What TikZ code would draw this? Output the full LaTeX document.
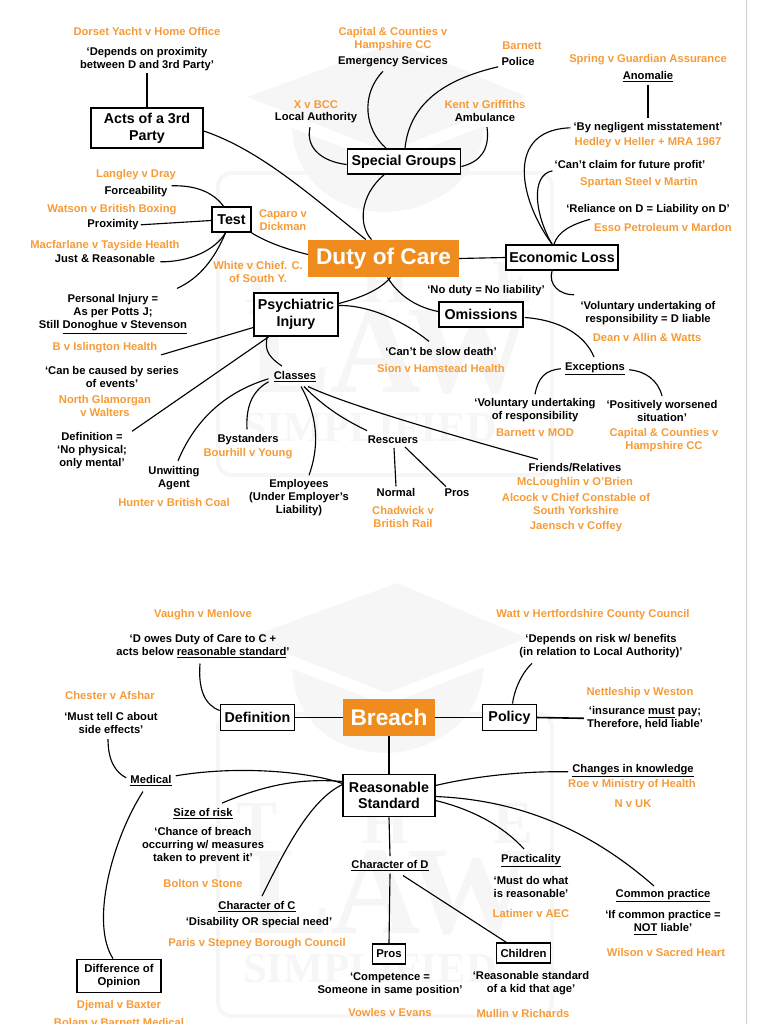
\documentclass[tikz,border=0pt]{standalone}
\usepackage{fontspec}
\setmainfont{Liberation Sans}
\newfontfamily\markFont{Liberation Serif}
\definecolor{caseColor}{RGB}{246,155,55}
\definecolor{headColor}{RGB}{240,140,30}
\definecolor{markColor}{RGB}{246,246,246}
\definecolor{edgeColor}{RGB}{205,205,205}
\tikzstyle{mindMap} = [x = .75pt, y = -.75pt]
\tikzstyle{caseText} = [text=caseColor, font=\fontsize{8.4}{9.75}\selectfont\bfseries, align=center, inner sep=1.5pt, yshift=-.6pt]
\tikzstyle{noteText} = [text=black, font=\fontsize{8.4}{9.75}\selectfont\bfseries, align=center, inner sep=1.5pt, yshift=-.6pt]
\tikzstyle{boxStyle} = [draw=black, fill=white, line width=1.1pt, inner sep=0pt, align=center, font=\fontsize{10.7}{12.5}\selectfont\bfseries]
\tikzstyle{smallBox} = [boxStyle, font=\fontsize{8.5}{10}\selectfont\bfseries]
\tikzstyle{headStyle} = [fill=headColor, text=white, inner sep=0pt, font=\fontsize{17}{18}\selectfont\bfseries]
\tikzstyle{branchLine} = [draw=black, line width=.85pt]
\tikzstyle{markText} = [text=markColor, inner sep=0pt, font=\markFont\bfseries]
\newcommand{\lawMark}[1]{
  \begin{scope}[shift={(0,#1)}]
    \fill [markColor] (247,97) -- (397,42) -- (527,97) -- (387,152) -- cycle;
    \fill [markColor] (292,128) -- (387,164) -- (484,126) .. controls (480,190) and (420,212) .. (385,212) .. controls (340,212) and (295,185) .. (292,128) -- cycle;
    \draw [markColor, line width=3pt, rounded corners=10pt] (218,173) rectangle (552,475);
  \end{scope}
}
\begin{document}
\begin{tikzpicture}[mindMap]
  \useasboundingbox (0,0) rectangle (768,1024);
  \draw [edgeColor, line width=.9pt] (746.5,0) -- (746.5,1024);

  % watermarks
  \lawMark{0}
  \node [markText, font=\markFont\bfseries\fontsize{46}{46}\selectfont] (theTop) at (385,282) {T\hspace{2.2cm}H\hspace{2.2cm}E};
  \node [markText, font=\markFont\bfseries\fontsize{94}{94}\selectfont] (lawTop) at (390,352) {LAW};
  \node [markText, font=\markFont\bfseries\fontsize{32}{32}\selectfont] (simplifiedTop) at (370,428) {SIMPLIFIED};
  \lawMark{541}
  \node [markText, font=\markFont\bfseries\fontsize{46}{46}\selectfont] (theBottom) at (385,823) {T\hspace{2.2cm}H\hspace{2.2cm}E};
  \node [markText, font=\markFont\bfseries\fontsize{94}{94}\selectfont] (lawBottom) at (390,893) {LAW};
  \node [markText, font=\markFont\bfseries\fontsize{32}{32}\selectfont] (simplifiedBottom) at (370,969) {SIMPLIFIED};

  % duty of care
  \node [headStyle, minimum width=113pt, minimum height=28pt] (dutyBox) at (383.5,258.5) {\raisebox{-1.5pt}{Duty of Care}};
  \node [boxStyle, minimum width=84pt, minimum height=30pt] (thirdBox) at (147,128) {Acts of a 3rd\\Party};
  \node [boxStyle, minimum width=29pt, minimum height=19pt] (testBox) at (231.5,219.5) {\raisebox{-.7pt}{Test}};
  \node [boxStyle, minimum width=85pt, minimum height=19pt] (specialBox) at (404,161.5) {\raisebox{-1.5pt}{Special Groups}};
  \node [boxStyle, minimum width=84pt, minimum height=19pt] (economicBox) at (562,257.5) {\raisebox{-.7pt}{Economic Loss}};
  \node [boxStyle, minimum width=63pt, minimum height=32pt] (psychBox) at (296,314.5) {Psychiatric\\Injury};
  \node [boxStyle, minimum width=63pt, minimum height=19pt] (omissionsBox) at (481,314.5) {Omissions};

  \node [caseText] (dorsetCase) at (147,31) {Dorset Yacht v Home Office};
  \node [noteText] (dorsetNote) at (147,58.5) {‘Depends on proximity\\between D and 3rd Party’};
  \node [caseText] (langleyCase) at (136,174) {Langley v Dray};
  \node [noteText] (forceNote) at (136,191) {Forceability};
  \node [caseText] (watsonCase) at (112,209) {Watson v British Boxing};
  \node [noteText] (proximityNote) at (113,224) {Proximity};
  \node [caseText] (macfarlaneCase) at (105,245) {Macfarlane v Tayside Health};
  \node [noteText] (justNote) at (105,258) {Just \& Reasonable};
  \node [caseText] (caparoCase) at (283,219) {Caparo v\\Dickman};
  \node [caseText] (whiteCase) at (258,271) {White v Chief. C.\\of South Y.};
  \node [noteText] (injuryNote) at (113,313.5) {Personal Injury =\\As per Potts J;\\Still \underline{Donoghue v Stevenson}};
  \node [caseText] (islingtonCase) at (105,347) {B v Islington Health};
  \node [noteText] (seriesNote) at (112,376) {‘Can be caused by series\\of events’};
  \node [caseText] (glamorganCase) at (105,405.5) {North Glamorgan\\v Walters};
  \node [noteText] (physicalNote) at (92,450) {Definition =\\‘No physical;\\only mental’};
  \node [noteText] (unwittingNote) at (174,477) {Unwitting\\Agent};
  \node [caseText] (hunterCase) at (174,502) {Hunter v British Coal};
  \node [noteText] (bystandersNote) at (248,439) {Bystanders};
  \node [caseText] (bourhillCase) at (248,453) {Bourhill v Young};
  \node [noteText] (employeesNote) at (299,497) {Employees\\(Under Employer’s\\Liability)};
  \node [noteText] (classesNote) at (295,376) {\underline{Classes}};
  \node [caseText] (capitalCase) at (393,38.5) {Capital \& Counties v\\Hampshire CC};
  \node [noteText] (emergencyNote) at (393,61) {Emergency Services};
  \node [caseText] (barnettCase) at (522,45) {Barnett};
  \node [noteText] (policeNote) at (518,61) {Police};
  \node [caseText] (bccCase) at (316,104) {X v BCC};
  \node [noteText] (localNote) at (316,117) {Local Authority};
  \node [caseText] (kentCase) at (485,104) {Kent v Griffiths};
  \node [noteText] (ambulanceNote) at (485,117) {Ambulance};
  \node [caseText] (springCase) at (648,59) {Spring v Guardian Assurance};
  \node [noteText] (anomalieNote) at (648,76) {\underline{Anomalie}};
  \node [noteText] (negligentNote) at (648,127) {‘By negligent misstatement’};
  \node [caseText] (hedleyCase) at (648,142) {Hedley v Heller + MRA 1967};
  \node [noteText] (profitNote) at (630,165) {‘Can’t claim for future profit’};
  \node [caseText] (spartanCase) at (639,182) {Spartan Steel v Martin};
  \node [noteText] (relianceNote) at (648,209) {‘Reliance on D = Liability on D’};
  \node [caseText] (essoCase) at (663,227) {Esso Petroleum v Mardon};
  \node [noteText] (nodutyNote) at (486,290) {‘No duty = No liability’};
  \node [noteText] (undertakingNote) at (648,312) {‘Voluntary undertaking of\\responsibility = D liable};
  \node [caseText] (deanCase) at (647,337) {Dean v Allin \& Watts};
  \node [noteText] (slowNote) at (441,351) {‘Can’t be slow death’};
  \node [caseText] (sionCase) at (441,368) {Sion v Hamstead Health};
  \node [noteText] (exceptionsNote) at (595,368) {\underline{Exceptions}};
  \node [noteText] (voluntaryNote) at (535,409.5) {‘Voluntary undertaking\\of responsibility};
  \node [caseText] (barnettModCase) at (535,432) {Barnett v MOD};
  \node [noteText] (worsenedNote) at (662,410) {‘Positively worsened\\situation’};
  \node [caseText] (capitalTwoCase) at (664,439) {Capital \& Counties v\\Hampshire CC};
  \node [noteText] (rescuersNote) at (393,439) {Rescuers};
  \node [noteText] (normalNote) at (396,492) {Normal};
  \node [noteText] (rescueProsNote) at (457,492) {Pros};
  \node [caseText] (chadwickCase) at (403,516) {Chadwick v\\British Rail};
  \node [noteText] (friendsNote) at (575,467) {Friends/Relatives};
  \node [caseText] (mcloughlinCase) at (575,482) {McLoughlin v O’Brien};
  \node [caseText] (alcockCase) at (576,503.5) {Alcock v Chief Constable of\\South Yorkshire};
  \node [caseText] (jaenschCase) at (576,526) {Jaensch v Coffey};

  \draw [branchLine] (dutyBox.east) -- (economicBox.west);
  \draw [branchLine] ([shift={(0,3)}]thirdBox.east) .. controls (260,150) and (310,195) .. ([shift={(58,0)}]dutyBox.north west);
  \draw [branchLine] (testBox.south east) .. controls (270,244) and (290,250) .. ([shift={(0,-4)}]dutyBox.west);
  \draw [branchLine] ([shift={(-20,0)}]specialBox.south) .. controls (360,195) and (358,225) .. ([shift={(-12,0)}]dutyBox.north);
  \draw [branchLine] ([shift={(0,-11)}]psychBox.east) .. controls (360,298) and (380,290) .. ([shift={(7,0)}]dutyBox.south);
  \draw [branchLine] ([shift={(4,0)}]dutyBox.south) .. controls (400,298) and (420,308) .. ([shift={(0,-3)}]omissionsBox.west);
  \draw [branchLine] (dorsetNote.south) -- (thirdBox.north);
  \draw [branchLine] ([shift={(2,-6)}]forceNote.east) .. controls (200,185) and (215,195) .. ([shift={(-8,0)}]testBox.north);
  \draw [branchLine] (proximityNote.east) -- ([shift={(0,1)}]testBox.west);
  \draw [branchLine] ([shift={(3,3)}]justNote.east) .. controls (190,262) and (215,250) .. ([shift={(-6,0)}]testBox.south);
  \draw [branchLine] ([shift={(64,-4)}]injuryNote.north) .. controls (200,278) and (215,258) .. ([shift={(-6,0)}]testBox.south);
  \draw [branchLine] ([shift={(49,-9)}]seriesNote.north) -- ([shift={(0,13)}]psychBox.west);
  \draw [branchLine] ([shift={(40,1)}]physicalNote.north) -- ([shift={(-27,0)}]psychBox.south);
  \draw [branchLine] ([shift={(-13,-3)}]classesNote.north) .. controls (264,354) and (266,347) .. ([shift={(-29,0)}]psychBox.south);
  \draw [branchLine] ([shift={(0,-9)}]psychBox.east) .. controls (370,305) and (405,322) .. ([shift={(-12,-4)}]slowNote.north);
  \draw [branchLine] ([shift={(-3,2)}]classesNote.west) .. controls (225,392) and (195,420) .. ([shift={(4,-3)}]unwittingNote.north);
  \draw [branchLine] ([shift={(-3,5)}]classesNote.west) .. controls (250,392) and (246,410) .. ([shift={(-1,-3)}]bystandersNote.north);
  \draw [branchLine] ([shift={(6,2)}]classesNote.south) .. controls (320,420) and (318,450) .. ([shift={(10,-2)}]employeesNote.north);
  \draw [branchLine] ([shift={(9,2)}]classesNote.south) .. controls (325,408) and (345,420) .. ([shift={(-26,-3)}]rescuersNote.north);
  \draw [branchLine] ([shift={(13,2)}]classesNote.south) .. controls (345,404) and (440,432) .. ([shift={(-37,-2)}]friendsNote.north);
  \draw [branchLine] ([shift={(1,2)}]rescuersNote.south) -- (normalNote.north);
  \draw [branchLine] ([shift={(12,1)}]rescuersNote.south) -- ([shift={(-11,0)}]rescueProsNote.north);
  \draw [branchLine] ([shift={(1,3)}]omissionsBox.east) .. controls (560,320) and (585,335) .. ([shift={(-1,-3)}]exceptionsNote.north);
  \draw [branchLine] ([shift={(-2,0)}]exceptionsNote.west) .. controls (545,370) and (538,378) .. ([shift={(0,-2)}]voluntaryNote.north);
  \draw [branchLine] ([shift={(2,1)}]exceptionsNote.east) .. controls (645,371) and (658,380) .. ([shift={(0,-2)}]worsenedNote.north);
  \draw [branchLine] ([shift={(-10,0)}]economicBox.south) .. controls (548,285) and (560,295) .. ([shift={(-74,-4)}]undertakingNote.north);
  \draw [branchLine] (anomalieNote.south) -- ([shift={(0,-2)}]negligentNote.north);
  \draw [branchLine] ([shift={(-1,0)}]negligentNote.west) .. controls (505,130) and (519,199) .. ([shift={(-10,0)}]economicBox.north);
  \draw [branchLine] ([shift={(0,5)}]profitNote.west) .. controls (530,175) and (535,215) .. ([shift={(-10,0)}]economicBox.north);
  \draw [branchLine] ([shift={(-58,2)}]relianceNote.south) .. controls (570,225) and (558,232) .. ([shift={(-8,0)}]economicBox.north);
  \draw [branchLine] ([shift={(-6,2)}]localNote.south) .. controls (305,150) and (325,162) .. ([shift={(0,3)}]specialBox.west);
  \draw [branchLine] ([shift={(-10,2)}]emergencyNote.south) .. controls (360,95) and (365,130) .. ([shift={(-18,0)}]specialBox.north);
  \draw [branchLine] ([shift={(-1,5)}]policeNote.west) .. controls (450,78) and (410,100) .. ([shift={(1,0)}]specialBox.north);
  \draw [branchLine] ([shift={(2,3)}]ambulanceNote.south) .. controls (490,150) and (480,162) .. ([shift={(0,5)}]specialBox.east);

  % breach
  \node [headStyle, minimum width=69pt, minimum height=28pt] (breachBox) at (389,717.5) {Breach};
  \node [boxStyle, line width=.8pt, minimum width=56pt, minimum height=20pt] (definitionBox) at (257.5,717.5) {Definition};
  \node [boxStyle, line width=.8pt, minimum width=40pt, minimum height=20pt] (policyBox) at (509.5,717.5) {\raisebox{-.7pt}{Policy}};
  \node [boxStyle, line width=.8pt, minimum width=69pt, minimum height=32pt] (reasonBox) at (389,795.5) {Reasonable\\Standard};
  \node [smallBox, minimum width=25pt, minimum height=15pt] (prosBox) at (389,954) {Pros};
  \node [smallBox, line width=.8pt, minimum width=40pt, minimum height=15pt] (childrenBox) at (523.5,953) {Children};
  \node [smallBox, minimum width=63pt, minimum height=25pt] (differenceBox) at (119,976) {Difference of\\Opinion};

  \node [caseText] (vaughnCase) at (203,614) {Vaughn v Menlove};
  \node [noteText] (owesNote) at (203,645.5) {‘D owes Duty of Care to C +\\acts below \underline{reasonable standard}’};
  \node [caseText] (wattCase) at (593,614) {Watt v Hertfordshire County Council};
  \node [noteText] (riskNote) at (601,645.5) {‘Depends on risk w/ benefits\\(in relation to Local Authority)’};
  \node [caseText] (chesterCase) at (110,695) {Chester v Afshar};
  \node [noteText] (tellNote) at (111,722.5) {‘Must tell C about\\side effects’};
  \node [caseText] (nettleshipCase) at (640,692) {Nettleship v Weston};
  \node [noteText] (insuranceNote) at (645,717.5) {‘insurance \underline{must} pay;\\Therefore, held liable’};
  \node [noteText] (medicalNote) at (151,780) {\underline{Medical}};
  \node [noteText] (changesNote) at (633,770) {\underline{Changes in knowledge}};
  \node [caseText] (roeCase) at (632,784) {Roe v Ministry of Health};
  \node [caseText] (ukCase) at (633,803) {N v UK};
  \node [noteText] (sizeNote) at (203,813) {\underline{Size of risk}};
  \node [noteText] (chanceNote) at (203,844.5) {‘Chance of breach\\occurring w/ measures\\taken to prevent it’};
  \node [caseText] (boltonCase) at (203,883) {Bolton v Stone};
  \node [noteText] (characterDNote) at (390,865) {\underline{Character of D}};
  \node [noteText] (practicalityNote) at (531,860) {\underline{Practicality}};
  \node [noteText] (mustNote) at (531,886) {‘Must do what\\is reasonable’};
  \node [caseText] (latimerCase) at (531,913) {Latimer v AEC};
  \node [noteText] (commonNote) at (663,895) {\underline{Common practice}};
  \node [noteText] (notLiableNote) at (663,922) {‘If common practice =\\\underline{NOT} liable’};
  \node [caseText] (wilsonCase) at (666,952) {Wilson v Sacred Heart};
  \node [noteText] (characterCNote) at (257,906) {\underline{Character of C}};
  \node [noteText] (disabilityNote) at (259,922) {‘Disability OR special need’};
  \node [caseText] (parisCase) at (257,943) {Paris v Stepney Borough Council};
  \node [noteText] (competenceNote) at (390,983.5) {‘Competence =\\Someone in same position’};
  \node [noteText] (kidNote) at (531,982.5) {‘Reasonable standard\\of a kid that age’};
  \node [caseText] (vowlesCase) at (390,1012) {Vowles v Evans};
  \node [caseText] (mullinCase) at (523,1013) {Mullin v Richards};
  \node [caseText] (djemalCase) at (119,1005) {Djemal v Baxter};
  \node [caseText] (bolamCase) at (119,1022) {Bolam v Barnett Medical};

  \draw [branchLine] (definitionBox.east) -- (breachBox.west);
  \draw [branchLine] (breachBox.east) -- (policyBox.west);
  \draw [branchLine, line width=1.2pt] (policyBox.east) -- ([shift={(-1,0)}]insuranceNote.west);
  \draw [branchLine] (breachBox.south) -- (reasonBox.north);
  \draw [branchLine] (reasonBox.south) -- ([shift={(0,-2)}]characterDNote.north);
  \draw [branchLine] (characterDNote.south) -- (prosBox.north);
  \draw [branchLine] ([shift={(13,2)}]characterDNote.south) -- ([shift={(-17,0)}]childrenBox.north);
  \draw [branchLine] ([shift={(-3,3)}]owesNote.south) .. controls (198,690) and (205,705) .. ([shift={(0,-7)}]definitionBox.west);
  \draw [branchLine] ([shift={(-69,3)}]riskNote.south) .. controls (520,675) and (514,692) .. ([shift={(3,0)}]policyBox.north);
  \draw [branchLine] ([shift={(-3,3)}]tellNote.south) .. controls (108,760) and (115,772) .. ([shift={(-2,-3)}]medicalNote.west);
  \draw [branchLine] ([shift={(2,-5)}]medicalNote.east) .. controls (240,765) and (310,772) .. ([shift={(0,-12)}]reasonBox.west);
  \draw [branchLine] ([shift={(19,-3)}]sizeNote.north) .. controls (265,785) and (300,778) .. ([shift={(0,-14)}]reasonBox.west);
  \draw [branchLine] ([shift={(5,-3)}]characterCNote.north) .. controls (285,850) and (310,800) .. ([shift={(0,-11)}]reasonBox.west);
  \draw [branchLine] ([shift={(-8,3)}]medicalNote.south) .. controls (112,840) and (90,923) .. ([shift={(-6,0)}]differenceBox.north);
  \draw [branchLine] ([shift={(0,-10)}]reasonBox.east) .. controls (480,775) and (530,771) .. ([shift={(-2,1)}]changesNote.west);
  \draw [branchLine] ([shift={(0,5)}]reasonBox.east) .. controls (475,810) and (505,828) .. ([shift={(-7,-3)}]practicalityNote.north);
  \draw [branchLine] ([shift={(0,1)}]reasonBox.east) .. controls (520,800) and (590,830) .. ([shift={(-9,-1)}]commonNote.north);
\end{tikzpicture}
\end{document}
